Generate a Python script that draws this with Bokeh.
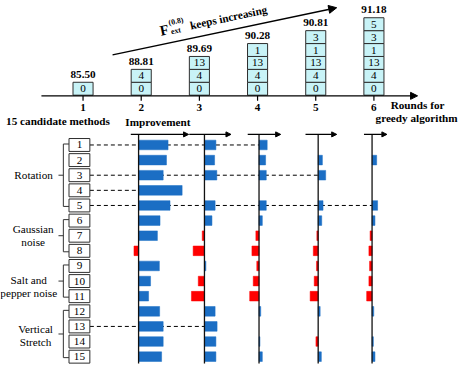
import math
from bokeh.plotting import figure
from bokeh.models import ColumnDataSource, Range1d, Arrow, NormalHead
from bokeh.core.properties import value
from bokeh.embed import file_html
from bokeh.resources import INLINE

# ---------------- data ----------------
rounds = [1, 2, 3, 4, 5, 6]
scores = [85.50, 88.81, 89.69, 90.28, 90.81, 91.18]
selected = [0, 4, 13, 1, 3, 5]          # method added in each round (0 = none)
methods = list(range(1, 16))
group_lines = [["Rotation"], ["Gaussian", "noise"], ["Salt and", "pepper noise"], ["Vertical", "Stretch"]]
group_first = [1, 6, 9, 12]
group_last = [5, 8, 11, 15]

# improvement of F score (points) when adding each method, one list per step
impr_step1 = [2.24, 2.12, 1.87, 3.31, 2.39, 1.63, 1.43, -0.35, 1.58, 0.91, 0.76, 1.60, 1.87, 1.87, 1.75]
impr_step2 = [0.87, 0.77, 0.94, None, 0.81, 0.57, -0.17, -0.86, 0.11, -0.47, -0.99, 0.81, 0.96, 0.87, 0.87]
impr_step3 = [0.62, 0.50, 0.55, None, 0.55, 0.25, -0.24, -0.54, -0.17, -0.44, -0.71, 0.13, None, 0.07, 0.25]
impr_step4 = [None, 0.32, 0.57, None, 0.37, 0.27, -0.10, -0.37, -0.13, -0.30, -0.61, 0.15, None, -0.17, 0.24]
impr_step5 = [None, 0.35, None, None, 0.42, 0.22, -0.15, -0.24, -0.19, -0.24, -0.41, 0.13, None, 0.10, 0.22]
improvements = [impr_step1, impr_step2, impr_step3, impr_step4, impr_step5]

# ---------------- layout ----------------
FONT = value("Liberation Serif")
FS = "11.2px"
BLUE = "#1b6ec4"
RED = "#ff0000"
CELL_FILL = "#c8f3f7"

p = figure(width=458, height=366, x_range=Range1d(3, 473), y_range=Range1d(381, 1),
           output_backend="svg", toolbar_location=None, min_border=0,
           x_axis_type=None, y_axis_type=None)
p.grid.visible = False
p.outline_line_color = None
p.background_fill_color = "white"

# ---- top: rounds axis with stacked selections ----
AXIS_Y = 100
RX0, RSTEP = 87.7, 59.7
CELL_W, CELL_H = 20.6, 13.4
STACK_BASE = 99.3

rx = [RX0 + (r - 1) * RSTEP for r in rounds]
p.add_layout(Arrow(end=NormalHead(size=7, fill_color="black", line_color="black"),
                   x_start=45, y_start=AXIS_Y, x_end=431, y_end=AXIS_Y,
                   line_width=1.4, line_color="black"))
p.segment(x0=rx, y0=[AXIS_Y] * 6, x1=rx, y1=[AXIS_Y + 5] * 6, line_color="black", line_width=1.2)
p.text(x=rx, y=[112.5] * 6, text=[str(r) for r in rounds], text_font=FONT, text_font_size=FS,
       text_font_style="bold", text_align="center", text_baseline="middle")

cx, cy, ct = [], [], []
for i, r in enumerate(rounds):
    for k in range(r):
        cx.append(rx[i])
        cy.append(STACK_BASE - (k + 0.5) * CELL_H)
        ct.append(str(selected[k]))
cells = ColumnDataSource(dict(x=cx, y=cy, t=ct))
p.rect(x="x", y="y", width=CELL_W, height=CELL_H, source=cells, fill_color=CELL_FILL,
       line_color="#2e2e2e", line_width=1)
p.text(x="x", y="y", text="t", source=cells, text_font=FONT, text_font_size=FS,
       text_align="center", text_baseline="middle")

score_y = [STACK_BASE - r * CELL_H - 8.5 for r in rounds]
p.text(x=rx, y=score_y, text=[f"{s:.2f}" for s in scores], text_font=FONT, text_font_size=FS,
       text_font_style="bold", text_align="center", text_baseline="middle")

# trend arrow and label
ax0, ay0, ax1, ay1 = 118, 57.5, 348, 8.5
p.add_layout(Arrow(end=NormalHead(size=8, fill_color="black", line_color="black"),
                   x_start=ax0, y_start=ay0, x_end=ax1, y_end=ay1, line_width=1.4, line_color="black"))
ang = math.atan2(ay0 - ay1, ax1 - ax0)
p.text(x=[171], y=[31.5], text=["F"], angle=ang, text_font=FONT, text_font_size="14.5px",
       text_font_style="bold", text_align="center", text_baseline="middle")
p.text(x=[183], y=[22.5], text=["(0.8)"], angle=ang, text_font=FONT, text_font_size="7.8px",
       text_font_style="bold", text_align="center", text_baseline="middle")
p.text(x=[183], y=[32.5], text=["ext"], angle=ang, text_font=FONT, text_font_size="7.8px",
       text_font_style="bold", text_align="center", text_baseline="middle")
p.text(x=[237], y=[18.5], text=["keeps increasing"], angle=ang, text_font=FONT, text_font_size=FS,
       text_font_style="bold", text_align="center", text_baseline="middle")

p.text(x=[62, 164.5, 431, 430], y=[126, 127.5, 110, 122.5],
       text=["15 candidate methods", "Improvement", "Rounds for", "greedy algorithm"],
       text_font=FONT, text_font_size=FS, text_font_style="bold",
       text_align="center", text_baseline="middle")

# ---- bottom: candidate methods ----
ROW_Y0, ROW_STEP = 151, 15.7
BOX_X, BOX_W, BOX_H = 84, 21.4, 13.4
ry = [ROW_Y0 + (m - 1) * ROW_STEP for m in methods]
box_right = BOX_X + BOX_W / 2
box_left = BOX_X - BOX_W / 2

# panels
PANEL_X = [144.7, 212.3, 268.3, 329, 384.3]
ARROW_X0 = [136.7, 196.7, 256.7, 316, 376]
ARROW_X1 = [196, 239.5, 290.5, 348, 399.5]
PANEL_TOP, PANEL_BOTTOM = 140, 378
PX_PER_PT = 13.5
BAR_H = 10

# dashed guide lines to the chosen method (drawn under bars)
dx0, dx1, dy = [], [], []
for j in range(len(PANEL_X)):
    m = selected[j + 1]
    dx0.append(box_right)
    dx1.append(PANEL_X[j])
    dy.append(ry[m - 1])
p.segment(x0=dx0, y0=dy, x1=dx1, y1=dy, line_color="black", line_width=1, line_dash="4 3")

# bars
bx, bl, br, bc = [], [], [], []
for j, vals in enumerate(improvements):
    for i, v in enumerate(vals):
        if v is None:
            continue
        bx.append(ry[i])
        bl.append(PANEL_X[j])
        br.append(PANEL_X[j] + v * PX_PER_PT)
        bc.append(BLUE if v > 0 else RED)
bars = ColumnDataSource(dict(y=bx, left=bl, right=br, c=bc))
p.hbar(y="y", left="left", right="right", height=BAR_H, source=bars, fill_color="c", line_color="c",
       line_width=0.5)

# panel axes
p.segment(x0=PANEL_X, y0=[PANEL_TOP] * 5, x1=PANEL_X, y1=[PANEL_BOTTOM] * 5, line_color="#111111",
          line_width=1.3)
for a0, a1 in zip(ARROW_X0, ARROW_X1):
    p.add_layout(Arrow(end=NormalHead(size=5, fill_color="black", line_color="black"),
                       x_start=a0, y_start=PANEL_TOP, x_end=a1, y_end=PANEL_TOP,
                       line_width=1.2, line_color="black"))

# method boxes
p.rect(x=[BOX_X] * 15, y=ry, width=BOX_W, height=BOX_H, fill_color="white", line_color="#2e2e2e",
       line_width=1)
p.text(x=[BOX_X] * 15, y=ry, text=[str(m) for m in methods], text_font=FONT, text_font_size=FS,
       text_align="center", text_baseline="middle")

# group brackets
BR_X, TICK_X = 67.5, 62.5
LABEL_CX = [37, 36.5, 32, 39]
LABEL_CY = [182.4, 245, 297.5, 349]
xs, ys = [], []
for g in range(4):
    top = ry[group_first[g] - 1] - 1
    bot = ry[group_last[g] - 1] + 1
    mid = (top + bot) / 2
    xs.append([box_left, BR_X, BR_X, box_left])
    ys.append([top, top, bot, bot])
    xs.append([TICK_X, BR_X])
    ys.append([mid, mid])
p.multi_line(xs=xs, ys=ys, line_color="#333333", line_width=1)

lx, ly, lt = [], [], []
for g, lines in enumerate(group_lines):
    n = len(lines)
    for k, t in enumerate(lines):
        lx.append(LABEL_CX[g])
        ly.append(LABEL_CY[g] + (k - (n - 1) / 2) * 13.5)
        lt.append(t)
p.text(x=lx, y=ly, text=lt, text_font=FONT, text_font_size=FS, text_align="center",
       text_baseline="middle")

open("out.html", "w").write(file_html(p, INLINE))
